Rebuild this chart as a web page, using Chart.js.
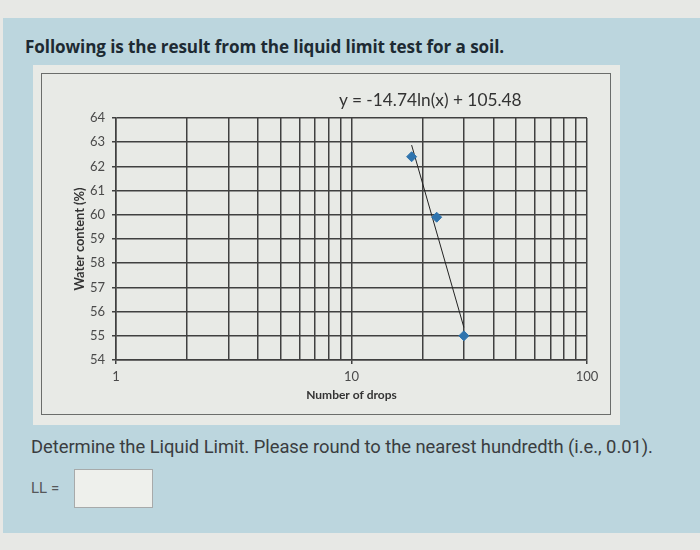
<!DOCTYPE html>
<html>
<head>
<meta charset="utf-8">
<script src="https://cdn.jsdelivr.net/npm/chart.js@4/dist/chart.umd.min.js"></script>
<style>
  html, body { margin: 0; padding: 0; }
  body { width: 700px; height: 550px; overflow: hidden; background: #e7e8e5; position: relative; font-family: "Open Sans", "Noto Sans", sans-serif; }
  #blue { position: absolute; left: 3px; top: 18px; width: 697px; height: 515px; background: #bcd6de; }
  #title { position: absolute; left: 25px; top: 35px; font-family: "Open Sans", sans-serif; font-weight: 700; font-size: 17.1px; color: #1d2a33; white-space: nowrap; letter-spacing: -0.1px; }
  #panel { position: absolute; left: 33px; top: 65px; width: 587px; height: 360px; background: #e8eae6; }
  #frame { position: absolute; left: 41px; top: 73px; width: 570px; height: 342px; border: 1px solid #6b6d6b; box-sizing: border-box; }
  #chartbox { position: absolute; left: 42px; top: 74px; width: 568px; height: 340px; }
  #eq { position: absolute; left: 339px; top: 89px; font-family: Lato, sans-serif; font-size: 17.3px; color: #333; white-space: nowrap; }
  #question { position: absolute; left: 31px; top: 436px; font-family: Roboto, sans-serif; font-size: 18.4px; color: #3a3d40; white-space: nowrap; letter-spacing: -0.05px; }
  #ll { position: absolute; left: 31px; top: 479px; font-family: Roboto, sans-serif; font-size: 15px; color: #55585a; }
  #input { position: absolute; left: 74px; top: 469px; width: 79px; height: 39px; box-sizing: border-box; border: 1px solid #a7aaaa; background: #eef0ec; }
</style>
</head>
<body>
<div id="blue"></div>
<div id="title">Following is the result from the liquid limit test for a soil.</div>
<div id="panel"></div>
<div id="frame"></div>
<div id="chartbox"><canvas id="c"></canvas></div>
<div id="eq">y = -14.74ln(x) + 105.48</div>
<div id="question">Determine the Liquid Limit. Please round to the nearest hundredth (i.e., 0.01).</div>
<div id="ll">LL =</div>
<div id="input"></div>
<script>
// Data
const drops = [18, 23, 30];
const waterContent = [62.4, 59.9, 55.0];
const trendX = [18, 30];
const trendY = [62.88, 55.35];
const xGridValues = [1, 2, 3, 4, 5, 6, 7, 8, 9, 10, 20, 30, 40, 50, 60, 70, 80, 90, 100];
const xTickLabels = [1, 10, 100];
const yMin = 54, yMax = 64, yStep = 1;
const xTitle = 'Number of drops';
const yTitle = 'Water content (%)';

const gridColor = '#404040';
const tickFont = { family: 'Lato, sans-serif', size: 13 };

new Chart(document.getElementById('c'), {
  type: 'scatter',
  data: {
    datasets: [
      {
        label: 'Data',
        data: drops.map((x, i) => ({ x: x, y: waterContent[i] })),
        pointStyle: 'rectRot',
        pointRadius: 5,
        pointBackgroundColor: '#2f74ae',
        pointBorderColor: '#2f74ae',
        pointBorderWidth: 1,
        showLine: false,
        order: 1
      },
      {
        label: 'Trend',
        data: trendX.map((x, i) => ({ x: x, y: trendY[i] })),
        showLine: true,
        borderColor: '#222',
        borderWidth: 1,
        pointRadius: 0,
        order: 2
      }
    ]
  },
  options: {
    responsive: true,
    maintainAspectRatio: false,
    animation: false,
    devicePixelRatio: 1,
    layout: { padding: { left: 0, right: 23, top: 44, bottom: 0 } },
    plugins: { legend: { display: false }, tooltip: { enabled: false }, title: { display: false } },
    scales: {
      x: {
        type: 'logarithmic',
        min: 1,
        max: 100,
        afterBuildTicks: (scale) => { scale.ticks = xGridValues.map(v => ({ value: v, major: xTickLabels.includes(v) })); },
        afterFit: (scale) => { scale.height = 54; },
        ticks: {
          autoSkip: false,
          maxRotation: 0,
          minRotation: 0,
          padding: 5,
          color: '#4a4a4a',
          font: tickFont,
          callback: (v) => xTickLabels.includes(v) ? String(v) : ''
        },
        grid: {
          color: gridColor,
          lineWidth: 1.5,
          tickLength: 4,
          tickColor: (ctx) => (ctx.tick && xTickLabels.includes(ctx.tick.value)) ? gridColor : 'rgba(0,0,0,0)'
        },
        border: { color: gridColor, width: 1.5 },
        title: {
          display: true,
          text: xTitle,
          color: '#333',
          font: { family: 'Lato, sans-serif', size: 12, weight: 'bold' },
          padding: { top: 0, bottom: 12 }
        }
      },
      y: {
        type: 'linear',
        min: yMin,
        max: yMax,
        afterFit: (scale) => { scale.width = 74; },
        ticks: {
          stepSize: yStep,
          padding: 7,
          color: '#4a4a4a',
          font: tickFont
        },
        grid: { color: gridColor, lineWidth: 1.5, tickLength: 4, tickColor: gridColor },
        border: { color: gridColor, width: 1.5 },
        title: {
          display: true,
          text: yTitle,
          color: '#333',
          font: { family: 'Lato, sans-serif', size: 12.8, weight: 'bold' },
          padding: { top: 30, bottom: 0 }
        }
      }
    }
  }
});
</script>
</body>
</html>
